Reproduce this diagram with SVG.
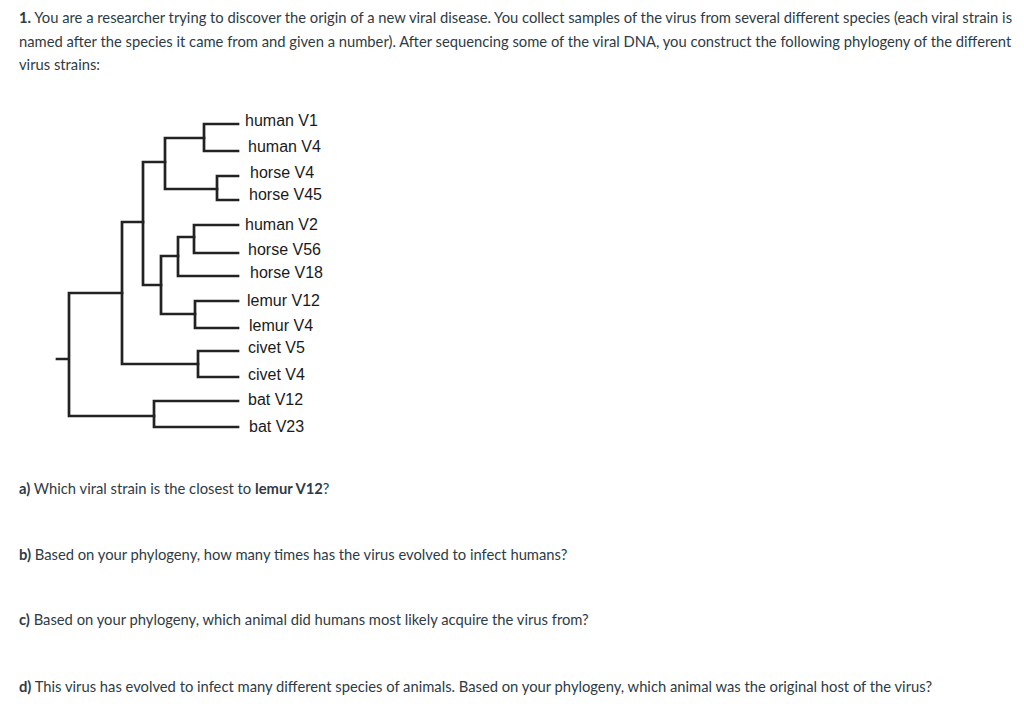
<svg xmlns="http://www.w3.org/2000/svg" width="1024" height="715" viewBox="0 0 1024 715">
<style>
.p{font-family:Lato,"Open Sans","Liberation Sans",sans-serif;font-size:14.75px;fill:#2d3b45}
.b{font-weight:bold}
.lbl{font-family:"Liberation Sans",Arial,sans-serif;font-size:16px;fill:#1a1a1a}
.t{fill:none;stroke:#222;stroke-width:2.7;stroke-linecap:square;stroke-linejoin:miter}
</style>
<rect width="1024" height="715" fill="#fff"/>
<g id="intro">
<text class="p" x="19" y="23"><tspan class="b">1.</tspan> You are a researcher trying to discover the origin of a new viral disease. You collect samples of the virus from several different species (each viral strain is</text>
<text class="p" x="19" y="47">named after the species it came from and given a number). After sequencing some of the viral DNA, you construct the following phylogeny of the different</text>
<text class="p" x="19" y="70">virus strains:</text>
</g>
<g id="connectors">
<path class="t" d="M57,359H69M69,293V416M69,293H122M69,416H154"/>
<path class="t" d="M154,401V427M154,401H238M154,427H238"/>
<path class="t" d="M122,222V364M122,222H143M122,364H198"/>
<path class="t" d="M198,351V377M198,351H238M198,377H238"/>
<path class="t" d="M143,162V285M143,162H165M143,285H161"/>
<path class="t" d="M165,138V189M165,138H204M165,189H217"/>
<path class="t" d="M204,124V151M204,124H238M204,151H238"/>
<path class="t" d="M217,176V200M217,176H238M217,200H238"/>
<path class="t" d="M161,256V314M161,256H178M161,314H195"/>
<path class="t" d="M195,301V328M195,301H238M195,328H238"/>
<path class="t" d="M178,237V276M178,237H194M178,276H238"/>
<path class="t" d="M194,225V253M194,225H238M194,253H238"/>
</g>
<g id="leaf-human-v1"><text class="lbl" x="245" y="126">human V1</text></g>
<g id="leaf-human-v4"><text class="lbl" x="248" y="152">human V4</text></g>
<g id="leaf-horse-v4"><text class="lbl" x="250" y="178">horse V4</text></g>
<g id="leaf-horse-v45"><text class="lbl" x="249" y="200">horse V45</text></g>
<g id="leaf-human-v2"><text class="lbl" x="245" y="230">human V2</text></g>
<g id="leaf-horse-v56"><text class="lbl" x="248" y="255">horse V56</text></g>
<g id="leaf-horse-v18"><text class="lbl" x="250" y="278">horse V18</text></g>
<g id="leaf-lemur-v12"><text class="lbl" x="247" y="306">lemur V12</text></g>
<g id="leaf-lemur-v4"><text class="lbl" x="249" y="331">lemur V4</text></g>
<g id="leaf-civet-v5"><text class="lbl" x="248" y="353">civet V5</text></g>
<g id="leaf-civet-v4"><text class="lbl" x="248" y="380">civet V4</text></g>
<g id="leaf-bat-v12"><text class="lbl" x="248" y="405">bat V12</text></g>
<g id="leaf-bat-v23"><text class="lbl" x="249" y="432">bat V23</text></g>
<g id="questions">
<text class="p" x="19" y="494"><tspan class="b">a)</tspan> Which viral strain is the closest to <tspan class="b">lemur V12</tspan>?</text>
<text class="p" x="19" y="560"><tspan class="b">b)</tspan> Based on your phylogeny, how many times has the virus evolved to infect humans?</text>
<text class="p" x="19" y="625"><tspan class="b">c)</tspan> Based on your phylogeny, which animal did humans most likely acquire the virus from?</text>
<text class="p" x="19" y="692"><tspan class="b">d)</tspan> This virus has evolved to infect many different species of animals. Based on your phylogeny, which animal was the original host of the virus?</text>
</g>
</svg>
